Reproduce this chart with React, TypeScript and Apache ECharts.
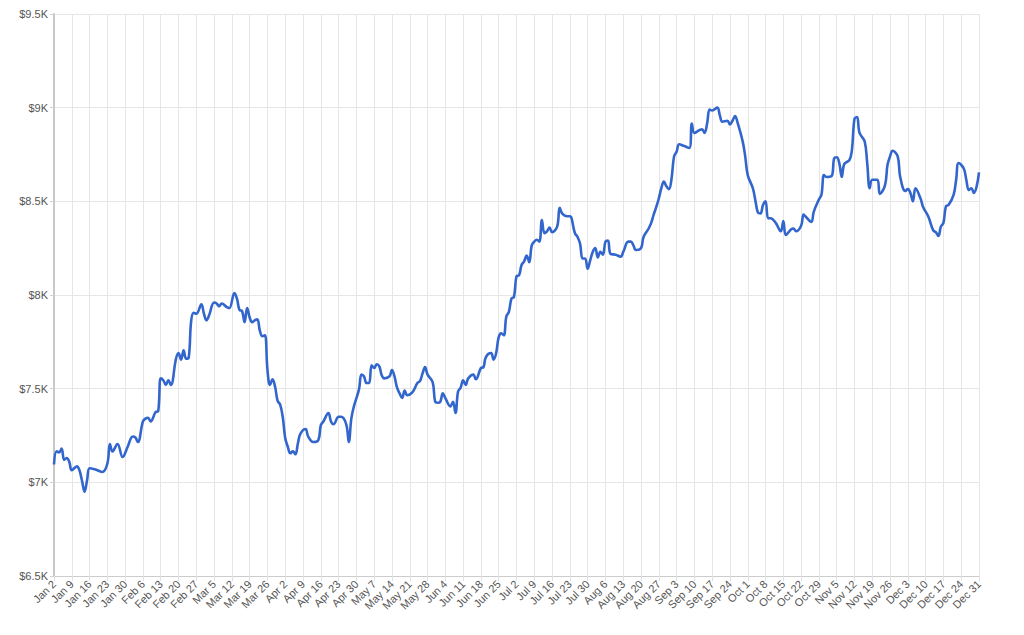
import React, { useEffect, useRef } from "react";
import * as echarts from "echarts";

// Week tick labels (2024, every 7 days from Jan 2)
const tickLabels = [
  "Jan 2", "Jan 9", "Jan 16", "Jan 23", "Jan 30",
  "Feb 6", "Feb 13", "Feb 20", "Feb 27",
  "Mar 5", "Mar 12", "Mar 19", "Mar 26",
  "Apr 2", "Apr 9", "Apr 16", "Apr 23", "Apr 30",
  "May 7", "May 14", "May 21", "May 28",
  "Jun 4", "Jun 11", "Jun 18", "Jun 25",
  "Jul 2", "Jul 9", "Jul 16", "Jul 23", "Jul 30",
  "Aug 6", "Aug 13", "Aug 20", "Aug 27",
  "Sep 3", "Sep 10", "Sep 17", "Sep 24",
  "Oct 1", "Oct 8", "Oct 15", "Oct 22", "Oct 29",
  "Nov 5", "Nov 12", "Nov 19", "Nov 26",
  "Dec 3", "Dec 10", "Dec 17", "Dec 24", "Dec 31",
];

// Day offsets from Jan 2
const days = [
  0, 1, 2, 3, 4, 5, 6, 7, 9, 10, 11, 12, 13, 14, 16, 17, 19, 21, 22, 23,
  25, 27, 29, 31, 32, 33, 35, 36, 37, 38, 40, 41, 42, 43, 44, 45, 46, 48, 49, 50,
  51, 52, 53, 54, 55, 56, 58, 59, 60, 61, 63, 64, 65, 66, 68, 69, 71, 72, 73, 74,
  75, 76, 77, 78, 79, 80, 81, 82, 83, 84, 85, 86, 87, 88, 89, 90, 91, 92, 93, 94,
  95, 96, 97, 99, 100, 102, 104, 105, 106, 108, 109, 110, 112, 113, 115, 116, 117, 118, 120, 121,
  122, 123, 124, 125, 126, 127, 128, 129, 130, 132, 133, 134, 135, 136, 137, 138, 139, 141, 143, 144,
  145, 146, 147, 149, 150, 151, 152, 153, 154, 156, 157, 158, 159, 160, 161, 162, 163, 165, 166, 168,
  169, 170, 172, 173, 174, 175, 176, 177, 178, 179, 180, 181, 182, 183, 184, 185, 186, 187, 188, 189,
  190, 191, 192, 193, 194, 195, 196, 198, 199, 200, 202, 203, 205, 206, 207, 208, 209, 210, 211, 212,
  213, 214, 215, 216, 217, 218, 219, 221, 223, 224, 226, 227, 228, 229, 231, 232, 234, 235, 236, 237,
  238, 239, 240, 241, 242, 243, 244, 245, 246, 248, 250, 251, 252, 254, 255, 256, 257, 258, 259, 261,
  262, 263, 265, 266, 267, 268, 269, 271, 272, 273, 275, 276, 277, 278, 279, 280, 281, 282, 284, 286,
  287, 288, 290, 291, 292, 294, 295, 296, 298, 299, 301, 302, 303, 304, 306, 307, 308, 309, 310, 311,
  313, 314, 315, 316, 317, 319, 320, 321, 322, 324, 325, 327, 328, 329, 330, 332, 333, 335, 336, 337,
  338, 339, 341, 342, 344, 346, 347, 348, 349, 350, 351, 352, 354, 355, 356, 358, 359, 360, 361, 362,
  363, 364,
];

// Values in dollars for each day above
const values = [
  7095, 7165, 7160, 7180, 7120, 7130, 7110, 7065, 7085, 7065, 7010, 6950, 7010, 7075, 7070, 7065, 7055, 7100, 7205, 7165,
  7205, 7135, 7190, 7245, 7240, 7215, 7325, 7340, 7345, 7325, 7375, 7380, 7555, 7545, 7520, 7545, 7520, 7660, 7690, 7655,
  7705, 7660, 7665, 7865, 7905, 7900, 7950, 7900, 7865, 7890, 7960, 7955, 7940, 7955, 7935, 7930, 8010, 7980, 7920, 7915,
  7855, 7930, 7880, 7855, 7865, 7870, 7810, 7780, 7785, 7600, 7520, 7550, 7510, 7435, 7415, 7350, 7235, 7190, 7155, 7165,
  7150, 7210, 7260, 7285, 7245, 7215, 7225, 7305, 7325, 7370, 7325, 7310, 7350, 7350, 7310, 7215, 7340, 7405, 7495, 7575,
  7565, 7530, 7530, 7625, 7610, 7630, 7620, 7570, 7555, 7565, 7600, 7565, 7505, 7475, 7450, 7490, 7465, 7480, 7530, 7540,
  7580, 7615, 7575, 7535, 7430, 7425, 7430, 7475, 7450, 7405, 7430, 7370, 7485, 7505, 7545, 7520, 7555, 7575, 7550, 7610,
  7615, 7670, 7690, 7655, 7690, 7775, 7795, 7785, 7885, 7910, 7980, 7990, 8100, 8105, 8160, 8180, 8210, 8175, 8265, 8285,
  8295, 8285, 8400, 8330, 8340, 8360, 8335, 8365, 8465, 8435, 8420, 8420, 8330, 8310, 8275, 8195, 8195, 8140, 8185, 8230,
  8250, 8200, 8230, 8215, 8285, 8290, 8220, 8215, 8205, 8230, 8285, 8285, 8265, 8240, 8250, 8310, 8355, 8385, 8430, 8470,
  8515, 8570, 8605, 8580, 8565, 8620, 8740, 8765, 8805, 8795, 8785, 8915, 8865, 8880, 8885, 8865, 8915, 8990, 8985, 9000,
  8960, 8925, 8930, 8910, 8930, 8955, 8920, 8820, 8740, 8640, 8570, 8505, 8440, 8435, 8480, 8500, 8410, 8410, 8385, 8340,
  8395, 8320, 8350, 8355, 8340, 8370, 8430, 8415, 8390, 8445, 8510, 8535, 8640, 8630, 8635, 8730, 8735, 8705, 8630, 8700,
  8720, 8775, 8940, 8950, 8865, 8820, 8705, 8570, 8615, 8615, 8540, 8585, 8695, 8740, 8770, 8740, 8630, 8555, 8565, 8545,
  8500, 8570, 8515, 8470, 8420, 8345, 8335, 8315, 8365, 8385, 8475, 8480, 8535, 8615, 8705, 8675, 8615, 8560, 8570, 8545,
  8575, 8655,
];

const yTicks = [6500, 7000, 7500, 8000, 8500, 9000, 9500];

export default function App() {
  const ref = useRef<HTMLDivElement>(null);

  useEffect(() => {
    if (!ref.current) return;
    const chart = echarts.init(ref.current, undefined, { renderer: "svg" });
    const data = days.map((d, i) => [d, values[i]]);
    chart.setOption({
      animation: false,
      backgroundColor: "#ffffff",
      grid: { left: 54, right: 45, top: 14, bottom: 59, containLabel: false },
      xAxis: {
        type: "value",
        min: 0,
        max: 364,
        interval: 7,
        axisLine: { show: true, lineStyle: { color: "#cccccc", width: 1 } },
        axisTick: { show: true, length: 5, lineStyle: { color: "#e0e0e0" } },
        splitLine: { show: true, lineStyle: { color: "#e6e6e6", width: 1 } },
        axisLabel: {
          rotate: 45,
          margin: 6,
          color: "#555555",
          fontFamily: "Liberation Sans, Arial, sans-serif",
          fontSize: 11,
          formatter: (v: number) => tickLabels[Math.round(v / 7)] ?? "",
        },
      },
      yAxis: {
        type: "value",
        min: yTicks[0],
        max: yTicks[yTicks.length - 1],
        interval: 500,
        axisLine: { show: true, lineStyle: { color: "#c8c8c8", width: 2 } },
        axisTick: { show: true, length: 4, lineStyle: { color: "#d0d0d0" } },
        splitLine: { show: true, lineStyle: { color: "#e6e6e6", width: 1 } },
        axisLabel: {
          margin: 6,
          color: "#555555",
          fontFamily: "Liberation Sans, Arial, sans-serif",
          fontSize: 11,
          formatter: (v: number) => "$" + v / 1000 + "K",
        },
      },
      series: [
        {
          type: "line",
          data,
          smooth: 0.4,
          showSymbol: false,
          symbol: "none",
          lineStyle: { color: "#3366cc", width: 2.6 },
        },
      ],
    });
    return () => chart.dispose();
  }, []);

  return <div ref={ref} style={{ width: 1024, height: 635, margin: -8 }} />;
}
